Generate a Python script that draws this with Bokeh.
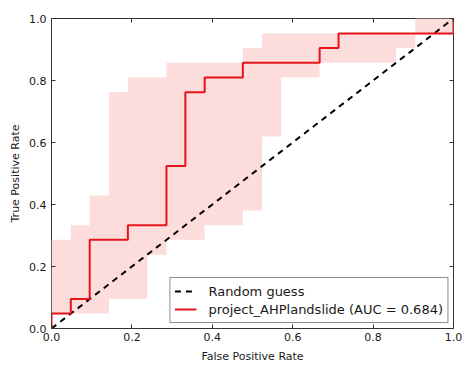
from bokeh.plotting import figure
from bokeh.models import LinearAxis, FixedTicker, PrintfTickFormatter, Range1d, Legend, LegendItem
from bokeh.embed import file_html
from bokeh.resources import INLINE

# ROC curve (step "after")
fpr = [0.0, 0.0, 0.048, 0.095, 0.190, 0.286, 0.333, 0.381, 0.476, 0.667, 0.714, 1.0]
tpr = [0.0, 0.048, 0.095, 0.286, 0.333, 0.524, 0.762, 0.810, 0.857, 0.905, 0.952, 1.0]

# confidence band (step "after")
band_x = [0.0, 0.048, 0.095, 0.143, 0.190, 0.238, 0.286, 0.381, 0.476, 0.524, 0.571, 0.667, 0.857, 0.905, 1.0]
band_upper = [0.286, 0.333, 0.429, 0.762, 0.810, 0.810, 0.857, 0.857, 0.905, 0.952, 0.952, 0.952, 0.952, 1.0, 1.0]
band_lower = [0.048, 0.048, 0.048, 0.095, 0.095, 0.238, 0.286, 0.333, 0.381, 0.619, 0.810, 0.857, 0.905, 0.952, 0.952]

diag_x = [0.0, 1.0]
diag_y = [0.0, 1.0]
ticks = [0.0, 0.2, 0.4, 0.6, 0.8, 1.0]

FONT = "DejaVu Sans"

p = figure(width=472, height=366, output_backend="svg", toolbar_location=None,
           x_range=Range1d(0, 1), y_range=Range1d(0, 1),
           min_border_left=51, min_border_right=19, min_border_top=18, min_border_bottom=38)
p.background_fill_color = "white"
p.border_fill_color = "white"
p.outline_line_color = "#333333"
p.outline_line_width = 1
p.xgrid.visible = False
p.ygrid.visible = False

band = p.varea_step(x=band_x, y1=band_lower, y2=band_upper, step_mode="after",
                    fill_color="#fddcdc", fill_alpha=1.0)
rnd = p.line(diag_x, diag_y, line_color="black", line_width=2, line_dash="6 5")
roc = p.step(fpr, tpr, mode="after", line_color="#e3141b", line_width=2)

for ax in (p.xaxis[0], p.yaxis[0]):
    ax.ticker = FixedTicker(ticks=ticks)
    ax.formatter = PrintfTickFormatter(format="%.1f")
    ax.major_tick_in = 4
    ax.major_tick_out = 0
    ax.minor_tick_in = 0
    ax.minor_tick_out = 0
    ax.axis_line_color = None
    ax.major_tick_line_color = "#333333"
    ax.major_label_text_font = FONT
    ax.major_label_text_font_size = "11px"
    ax.major_label_text_color = "#1a1a1a"
    ax.axis_label_text_font = FONT
    ax.axis_label_text_font_size = "11px"
    ax.axis_label_text_font_style = "normal"
    ax.axis_label_text_color = "#1a1a1a"

p.xaxis[0].axis_label = "False Positive Rate"
p.yaxis[0].axis_label = "True Positive Rate"
p.xaxis[0].major_label_standoff = 4
p.xaxis[0].axis_label_standoff = 6
p.yaxis[0].major_label_standoff = 5
p.yaxis[0].axis_label_standoff = 4

for loc in ("above", "right"):
    a = LinearAxis(ticker=FixedTicker(ticks=ticks), major_tick_in=4, major_tick_out=0,
                   minor_tick_in=0, minor_tick_out=0, axis_line_color=None,
                   major_tick_line_color="#333333",
                   major_label_overrides={t: "" for t in ticks},
                   major_label_standoff=0)
    p.add_layout(a, loc)

legend = Legend(items=[LegendItem(label="Random guess", renderers=[rnd]),
                       LegendItem(label="project_AHPlandslide (AUC = 0.684)", renderers=[roc])],
                location="bottom_right")
legend.margin = 5
legend.padding = 4
legend.spacing = 0
legend.label_height = 18
legend.glyph_height = 18
legend.glyph_width = 22
legend.label_standoff = 12
legend.label_text_font = FONT
legend.label_text_font_size = "13px"
legend.label_text_color = "#1a1a1a"
legend.border_line_color = "#222222"
legend.border_line_width = 1
legend.background_fill_color = "white"
legend.background_fill_alpha = 1.0
p.add_layout(legend, "center")

open("out.html", "w").write(file_html(p, INLINE))
